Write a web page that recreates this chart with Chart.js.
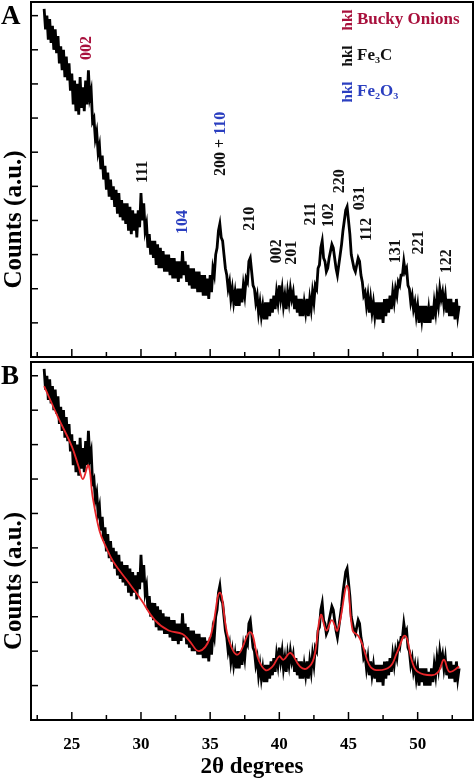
<!DOCTYPE html>
<html>
<head>
<meta charset="utf-8">
<script src="https://cdn.jsdelivr.net/npm/chart.js@4"></script>
<style>
  body { margin: 0; background: #fff; }
  canvas { position: absolute; left: 0; }
  #chartA { top: 0; }
  #chartB { top: 360px; }
</style>
</head>
<body>
<canvas id="chartA" width="474" height="360"></canvas>
<canvas id="chartB" width="474" height="421"></canvas>
<script>
// raw XRD trace, one value every 0.1 degree from 23.0 to 53.0
const startAngle = 23.0;
const stepAngle = 0.1;
const rawCounts = [
  10.2,9.6,10.0,9.3,9.9,9.2,9.7,9.0,9.6,8.9,
  9.4,8.6,9.1,8.4,9.0,8.2,8.8,8.1,8.6,7.8,
  8.3,7.4,8.1,7.2,8.0,7.1,8.2,7.3,7.9,7.2,
  8.1,7.4,8.4,7.6,7.8,6.9,7.0,6.4,6.6,6.0,
  6.2,5.5,5.9,5.2,5.6,4.9,5.4,4.7,5.2,4.6,
  5.0,4.4,4.9,4.2,4.8,4.1,4.6,4.0,4.5,3.9,
  4.5,3.7,4.4,3.6,4.3,3.7,4.2,3.5,4.3,3.8,
  4.8,4.0,4.5,3.7,3.9,3.2,3.6,3.0,3.4,2.9,
  3.4,2.7,3.3,2.6,3.2,2.6,3.1,2.5,3.0,2.5,
  3.0,2.4,2.9,2.3,2.9,2.3,2.8,2.2,2.8,2.3,
  3.1,2.4,2.8,2.2,2.7,2.1,2.6,2.0,2.6,2.0,
  2.5,1.9,2.5,1.9,2.4,1.8,2.4,1.8,2.3,1.7,
  2.4,1.9,2.6,2.4,3.0,3.2,3.7,3.9,3.5,3.4,
  3.0,2.6,2.4,2.0,2.2,1.7,2.0,1.6,1.9,1.5,
  2.0,1.5,2.0,1.6,2.1,1.8,2.3,2.2,2.8,2.9,
  2.5,2.1,2.0,1.6,1.8,1.3,1.6,1.2,1.5,1.1,
  1.6,1.1,1.6,1.2,1.7,1.3,1.8,1.4,1.9,1.6,
  2.1,1.7,2.0,1.5,1.8,1.4,1.9,1.6,2.0,1.7,
  1.9,1.4,1.8,1.3,1.7,1.2,1.7,1.2,1.6,1.3,
  1.7,1.2,1.7,1.4,1.9,1.6,2.1,2.0,2.6,2.7,
  3.2,3.4,2.9,2.8,2.5,2.6,2.9,3.1,3.3,3.2,
  2.9,2.6,2.4,2.7,3.0,3.3,3.7,4.0,4.3,4.4,
  4.0,3.6,3.0,2.8,2.6,2.5,2.7,2.9,2.8,2.4,
  2.2,1.8,1.9,1.5,1.8,1.3,1.7,1.3,1.6,1.2,
  1.6,1.1,1.6,1.1,1.6,1.0,1.7,1.2,1.7,1.3,
  1.8,1.4,1.9,1.6,2.0,1.8,2.2,2.1,2.4,2.4,
  2.8,2.5,2.6,2.1,2.0,1.6,1.8,1.4,1.6,1.2,
  1.5,1.0,1.5,1.1,1.5,1.0,1.5,1.0,1.4,1.0,
  1.5,1.1,1.6,1.3,1.8,1.5,2.0,1.7,1.9,1.5,
  1.8,1.3,1.7,1.2,1.7,1.2,1.6,1.1,1.7,1.2,
  1.5
];

// fitted curve (panel B)
const fitAngles = [23,24,25,25.5,25.8,26.2,26.5,27,27.5,28,29,30,31,32,33,33.5,34.2,35,35.7,36.3,37,37.9,38.5,39,39.5,40,40.3,40.8,41.5,42,42.5,43,43.4,43.8,44.2,44.9,45.3,45.7,46,46.5,47,48,48.5,49.1,49.6,50,51,51.5,51.9,52.3,53];
const fitCounts = [9.7,8.8,7.95,7.35,7.0,7.4,6.5,5.5,5.0,4.6,4.05,3.5,2.9,2.6,2.5,2.3,2.0,2.4,3.7,2.4,1.9,2.55,1.75,1.45,1.55,1.85,1.75,1.95,1.55,1.5,1.8,3.05,2.6,2.9,2.6,3.9,2.6,2.45,2.2,1.6,1.45,1.55,1.95,2.45,1.7,1.4,1.3,1.4,1.75,1.4,1.55];

const xTicks = [25, 30, 35, 40, 45, 50];
const yTicks = [1, 2, 3, 4, 5, 6, 7, 8, 9, 10];

// peak labels in panel A: [text, angle, counts, colour]
const peakLabels = [
  ['002', 26.1, 8.7, 'crimson'],
  ['111', 30.1, 5.1, 'black'],
  ['104', 33.0, 3.6, 'blue'],
  ['200 + ', 35.8, 5.3, 'black'],
  ['210', 37.9, 3.7, 'black'],
  ['002', 39.8, 2.75, 'black'],
  ['201', 40.9, 2.7, 'black'],
  ['211', 42.3, 3.85, 'black'],
  ['102', 43.6, 3.8, 'black'],
  ['220', 44.4, 4.8, 'black'],
  ['031', 45.8, 4.3, 'black'],
  ['112', 46.3, 3.4, 'black'],
  ['131', 48.4, 2.75, 'black'],
  ['221', 50.1, 3.0, 'black'],
  ['122', 52.1, 2.45, 'black']
];
const legendRows = [
  ['Bucky Onions', 'crimson'],
  ['Fe₃C', 'black'],
  ['Fe₂O₃', 'blue']
];

const colors = { crimson: '#a8103c', black: '#111', blue: '#2b3fc0' };
const serif = '"Liberation Serif", "DejaVu Serif", serif';

const rawPoints = rawCounts.map((v, i) => ({ x: startAngle + i * stepAngle, y: v }));
const fitPoints = fitAngles.map((a, i) => ({ x: a, y: fitCounts[i] }));

function vText(ctx, text, x, y, color) {
  ctx.save();
  ctx.translate(x, y);
  ctx.rotate(-Math.PI / 2);
  ctx.fillStyle = color;
  ctx.textAlign = 'center';
  ctx.textBaseline = 'middle';
  ctx.fillText(text, 0, 0);
  ctx.restore();
}

// frame, inward ticks, panel letter, y title
const framePlugin = {
  id: 'frame',
  afterDraw(chart, args, opts) {
    const ctx = chart.ctx, a = chart.chartArea;
    const xs = chart.scales.x, ys = chart.scales.y;
    ctx.save();
    ctx.strokeStyle = '#000';
    ctx.lineWidth = 2;
    ctx.strokeRect(a.left, a.top, a.right - a.left, a.bottom - a.top);
    ctx.lineWidth = 1.5;
    for (let v = 22.5; v <= 53; v += 2.5) {
      const px = xs.getPixelForValue(v);
      const len = v % 5 === 0 ? 8 : 5;
      ctx.beginPath(); ctx.moveTo(px, a.bottom); ctx.lineTo(px, a.bottom - len); ctx.stroke();
    }
    yTicks.forEach(v => {
      const py = ys.getPixelForValue(v);
      ctx.beginPath(); ctx.moveTo(a.left, py); ctx.lineTo(a.left + 7, py); ctx.stroke();
    });
    ctx.fillStyle = '#000';
    ctx.font = 'bold 27px ' + serif;
    ctx.textAlign = 'left';
    ctx.textBaseline = 'top';
    ctx.fillText(opts.letter, 1, a.top + 2);
    ctx.font = 'bold 25px ' + serif;
    vText(ctx, 'Counts (a.u.)', 15, (a.top + a.bottom) / 2 + 40, '#000');
    ctx.restore();
  }
};

const labelPlugin = {
  id: 'peaks',
  afterDraw(chart) {
    const ctx = chart.ctx;
    const xs = chart.scales.x, ys = chart.scales.y;
    ctx.save();
    ctx.font = 'bold 16px ' + serif;
    peakLabels.forEach(([t, a, c, col]) => {
      const px = xs.getPixelForValue(a), py = ys.getPixelForValue(c);
      ctx.save();
      ctx.translate(px, py);
      ctx.rotate(-Math.PI / 2);
      ctx.textAlign = 'left';
      ctx.textBaseline = 'middle';
      ctx.fillStyle = colors[col];
      ctx.fillText(t, 0, 0);
      if (t === '200 + ') {
        const w = ctx.measureText(t).width;
        ctx.fillStyle = colors.blue;
        ctx.fillText('110', w, 0);
      }
      ctx.restore();
    });
    legendRows.forEach(([t, col], i) => {
      const y = 20 + i * 36;
      ctx.font = 'bold 15px ' + serif;
      vText(ctx, 'hkl', 348, y, colors[col]);
      ctx.font = 'bold 17px ' + serif;
      ctx.fillStyle = colors[col];
      ctx.textAlign = 'left';
      ctx.textBaseline = 'middle';
      ctx.fillText(t, 357, y);
    });
    ctx.restore();
  }
};

function makeOptions(letter, showX) {
  return {
    responsive: false,
    animation: false,
    layout: { padding: { left: 31, right: 1, top: 2, bottom: showX ? 0 : 3 } },
    plugins: { legend: { display: false }, tooltip: { enabled: false }, frame: { letter: letter } },
    elements: { point: { radius: 0 } },
    scales: {
      x: {
        type: 'linear', min: 22.05, max: 54,
        display: showX,
        grid: { display: false },
        border: { display: false },
        afterBuildTicks: s => { s.ticks = xTicks.map(v => ({ value: v })); },
        afterFit: s => { s.height = showX ? 61 : 0; },
        ticks: { color: '#000', padding: 6, font: { family: serif, size: 17, weight: 'bold' } },
        title: {
          display: true, text: '2θ degrees', color: '#000', padding: 0,
          font: { family: serif, size: 23, weight: 'bold' }
        }
      },
      y: { min: 0, max: 10.4, display: false }
    }
  };
}

new Chart(document.getElementById('chartA'), {
  type: 'line',
  data: { datasets: [{ data: rawPoints, borderColor: '#000', borderWidth: 2.8, tension: 0 }] },
  options: makeOptions('A', false),
  plugins: [framePlugin, labelPlugin]
});

new Chart(document.getElementById('chartB'), {
  type: 'line',
  data: {
    datasets: [
      { data: fitPoints, borderColor: '#e8262a', borderWidth: 1.8, tension: 0.4, order: 0 },
      { data: rawPoints, borderColor: '#000', borderWidth: 2.8, tension: 0, order: 1 }
    ]
  },
  options: makeOptions('B', true),
  plugins: [framePlugin]
});
</script>
</body>
</html>
